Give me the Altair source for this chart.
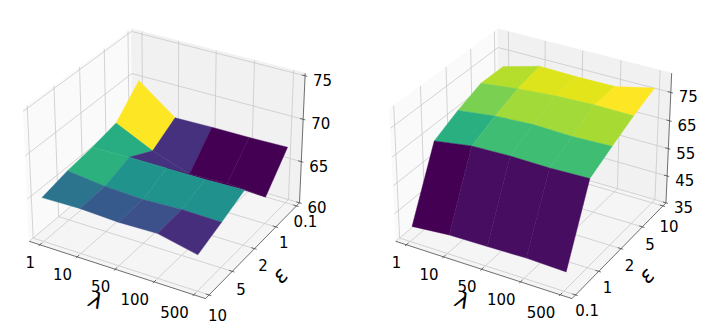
import numpy as np
import pandas as pd
import altair as alt

lambda_labels = ["1", "10", "50", "100", "500"]
eps_left = ["10", "5", "2", "1", "0.1"]      # front to back
eps_right = ["0.1", "1", "2", "5", "10"]     # front to back
zticks_left = [60, 65, 70, 75]
zticks_right = [35, 45, 55, 65, 75]
zlim_left = (60, 75.3)
zlim_right = (35, 81.7)

# surface heights, rows back to front, columns lambda
z_left = [[69.8, 66.5, 66.6, 66.6, 66.7],
          [66.9, 64.8, 63.3, 63.5, 63.2],
          [66.3, 66.4, 66.4, 66.4, 66.5],
          [65.9, 65.4, 65.2, 65.4, 65.3],
          [65.2, 65.3, 65.1, 65.2, 64.2]]
z_right = [[70.6, 74.2, 73.9, 74.0, 77.1],
           [70.8, 72.4, 73.5, 74.0, 73.9],
           [67.5, 69.2, 70.0, 69.6, 70.1],
           [63.3, 65.4, 65.8, 65.6, 66.0],
           [39.8, 41.0, 41.2, 41.5, 41.1]]
# colour level of each cell
level_left = [[1.0, 0.14, 0.0, 0.0],
              [0.62, 0.14, 0.0, 0.0],
              [0.64, 0.51, 0.51, 0.5],
              [0.38, 0.28, 0.24, 0.13]]
level_right = [[0.89, 0.95, 0.96, 1.0],
               [0.80, 0.86, 0.86, 0.87],
               [0.63, 0.69, 0.69, 0.69],
               [0.0, 0.03, 0.03, 0.03]]

W, H = 345, 312
MX, MY = 0.29, 0.15
SCALE = 1770
EPS_DX = [8.5, 8.75, 8.5, 7.75, 6]
EPS_DY = {"10": 21, "5": 18.5, "2": 17.5, "1": 16.5, "0.1": 16.5}

box = np.array([4, 4, 3]) * 1.8294640721620434 / np.sqrt(41)
center = box / 2
el, az = np.radians(30), np.radians(-60)
w = np.array([np.cos(el) * np.cos(az), np.cos(el) * np.sin(az), np.sin(el)])
eye = center + 10 * w
u = np.cross([0, 0, 1], w)
u = u / np.linalg.norm(u)
v = np.cross(w, u)


def camera(x, y, z, ox, oy):
    p = np.array([x, y, z]) * box - eye
    d = -p @ w
    return ox + SCALE * (p @ u) / d, oy - SCALE * (p @ v) / d, d


def nx(i):
    return (i + MX) / (4 + 2 * MX)


def ny(j, my=MY):
    return (j + my) / (4 + 2 * my)


def enc(chart):
    return chart.encode(
        x=alt.X("px:Q", scale=alt.Scale(domain=[0, W], nice=False, zero=False), axis=None),
        y=alt.Y("py:Q", scale=alt.Scale(domain=[H, 0], nice=False, zero=False), axis=None),
    )


def panel(zvals, levels, eps, zticks, zlim, ox, oy, surf_my):
    def P(x, y, z):
        return camera(x, y, z, ox, oy)

    def nz(val):
        return (val - zlim[0]) / (zlim[1] - zlim[0])

    def poly_frame(corners):
        rows = []
        for k, c in enumerate(corners + corners[:1]):
            a, b, _ = P(*c)
            rows.append({"px": a, "py": b, "k": k, "poly": 0})
        return pd.DataFrame(rows)

    def pane(corners, color):
        return enc(alt.Chart(poly_frame(corners)).mark_line(strokeWidth=0.8)).encode(
            order="k:Q", fill=alt.value(color), stroke=alt.value(color))

    layers = [
        pane([(0, 0, 0), (0, 1, 0), (0, 1, 1), (0, 0, 1)], "#fafafa"),
        pane([(0, 1, 0), (1, 1, 0), (1, 1, 1), (0, 1, 1)], "#f1f1f1"),
        pane([(0, 0, 0), (1, 0, 0), (1, 1, 0), (0, 1, 0)], "#f5f5f5"),
    ]

    # grid, axis lines and tick marks
    def segs(items):
        rows = []
        for n, pts in enumerate(items):
            for k, c in enumerate(pts):
                a, b, _ = P(*c)
                rows.append({"px": a, "py": b, "k": k, "seg": n})
        return pd.DataFrame(rows)

    grid, ticks = [], []
    for i in range(5):
        X = nx(i)
        grid.append([(X, 0, 0), (X, 1, 0), (X, 1, 1)])
        ticks.append([(X, -0.012, 0), (X, 0.018, 0)])
    for j in range(5):
        Y = ny(j)
        grid.append([(1, Y, 0), (0, Y, 0), (0, Y, 1)])
        ticks.append([(1.012, Y, 0), (0.982, Y, 0)])
    for t in zticks:
        Z = nz(t)
        grid.append([(0, 0, Z), (0, 1, Z), (1, 1, Z)])
        ticks.append([(1.012, 1, Z), (0.982, 1, Z)])
    axes = [[(0, 0, 0), (1, 0, 0)], [(1, 0, 0), (1, 1, 0)], [(1, 1, 0), (1, 1, 1)]]

    def line_layer(items, color, width):
        return enc(alt.Chart(segs(items)).mark_line(strokeWidth=width)).encode(
            detail="seg:N", order="k:Q", stroke=alt.value(color))

    layers.append(line_layer(grid, "#c9c9c9", 0.8))
    layers.append(line_layer(axes + ticks, "#4d4d4d", 0.8))

    # surface cells, painted far to near
    cells = []
    for r in range(4):
        for c in range(4):
            corners = [(c, r), (c + 1, r), (c + 1, r + 1), (c, r + 1)]
            pts = [P(nx(a), ny(4 - b, surf_my), nz(zvals[b][a])) for a, b in corners]
            depth = np.mean([p[2] for p in pts])
            cells.append((depth, levels[r][c], pts))
    cells.sort(key=lambda t: -t[0])
    rows = []
    for n, (_, lev, pts) in enumerate(cells):
        for k, p in enumerate(pts + pts[:1]):
            rows.append({"px": p[0], "py": p[1], "k": k, "cell": n, "level": lev})
    shade = alt.Scale(scheme="viridis", domain=[0, 1])
    layers.append(enc(alt.Chart(pd.DataFrame(rows)).mark_line(strokeWidth=0.4)).encode(
        detail="cell:N", order="k:Q",
        fill=alt.Fill("level:Q", scale=shade, legend=None),
        stroke=alt.Stroke("level:Q", scale=shade, legend=None)))

    # tick labels
    font = "DejaVu Sans"

    def text_layer(items, align, size=15, angle=0, style="normal"):
        df = pd.DataFrame(items, columns=["px", "py", "label"])
        return enc(alt.Chart(df).mark_text(
            align=align, baseline="middle", font=font, fontSize=size, color="#000000",
            angle=angle, fontStyle=style)).encode(text="label:N")

    xl = []
    for i, lab in enumerate(lambda_labels):
        a, b, _ = P(nx(i), 0, 0)
        xl.append((a - 5, b + 18, lab))
    yl = []
    for j, lab in enumerate(eps):
        a, b, _ = P(1, ny(j), 0)
        extra = 3 if lab == "0.1" else 0
        yl.append((a + EPS_DX[j] + extra, b + EPS_DY[lab], lab))
    zl = []
    for t in zticks:
        a, b, _ = P(1, 1, nz(t))
        zl.append((a + 8, b + 5, str(t)))
    layers += [text_layer(xl, "right"), text_layer(yl, "center"), text_layer(zl, "left")]

    a, b, _ = P(0.5, 0, 0)
    layers.append(text_layer([(a - 19, b + 32, "λ")], "center", 22, 18, "italic"))
    a, b, _ = P(1, 0.5, 0)
    layers.append(text_layer([(a + 26, b + 27, "ε")], "center", 22, 313, "italic"))
    return alt.layer(*layers).properties(width=W, height=H)


left = panel(z_left, level_left, eps_left, zticks_left, zlim_left, 159, 149.5, 0.15)
right = panel(z_right, level_right, eps_right, zticks_right, zlim_right, 181, 149.5, 0.25)

chart = alt.hconcat(left, right, spacing=0, padding=0).resolve_scale(
    x="independent", y="independent", fill="independent", stroke="independent"
).configure_view(stroke=None)

chart.save("out.html", embed_options={"renderer": "svg", "actions": False})
